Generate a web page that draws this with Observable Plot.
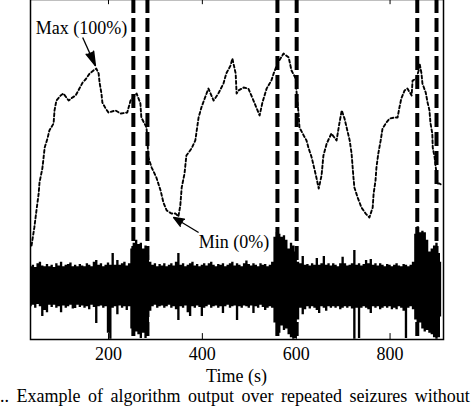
<!DOCTYPE html>
<html><head><meta charset="utf-8">
<script src="https://cdn.jsdelivr.net/npm/d3@7"></script>
<script src="https://cdn.jsdelivr.net/npm/@observablehq/plot@0.6"></script>
<style>
html,body{margin:0;padding:0;background:#fff;width:474px;height:409px;overflow:hidden;position:relative;font-family:"Liberation Serif","Times New Roman",serif;color:#000}
#chart{position:absolute;left:0;top:-1px}
.lbl{position:absolute;white-space:nowrap;font-size:18px;line-height:18px}
#xlabel{left:30px;width:413px;text-align:center;top:367px}
#caption{left:0;top:387px;word-spacing:3px}
</style></head><body>
<div id="chart"></div>
<div class="lbl" id="xlabel">Time (s)</div>
<div class="lbl" id="caption">.. Example of algorithm output over repeated seizures without</div>
<script>
// axes
const xDomain = [33.8, 913.9];
const yDomain = [-83.15, 146.7];
const xTicks = [200, 400, 600, 800];
// seizure onset / offset markers (s)
const seizureMarks = [253, 283, 560, 601, 858, 899];
// algorithm output (% of range)
const curveT = [36,42,47,51,53,59,61,64,70,74,83,85,89,98,104,115,123,130,138,145,151,160,168,174,179,181,185,187,194,200,215,226,240,247,260,268,270,281,283,285,292,302,311,317,324,334,343,349,353,356,362,366,377,385,388,392,398,405,413,424,434,445,451,460,464,471,473,477,488,498,509,515,522,528,537,547,552,560,573,584,590,599,601,605,607,616,622,626,633,637,643,648,654,658,665,675,686,692,697,703,709,714,718,720,722,724,731,739,748,756,763,765,769,771,775,780,784,792,799,809,816,820,824,831,837,846,848,856,861,863,867,869,876,880,884,886,890,891,895,899,901,905,912];
const curveV = [-19.6,-7.4,5.4,14.9,23,32.4,37.9,46.6,52.7,58.1,62.9,71.7,78.4,81.8,83.1,78.4,80.4,81.8,86.5,90.6,92.6,96.7,98.7,100,96.7,90.6,83.1,77,73,70.3,71.7,69.6,70.3,78.4,83.1,76.4,66.9,60.2,51.4,39.9,33.1,26.4,17.6,9.5,4.1,2,2,0,7.4,19.6,29,41.2,46,51.4,58.1,66.9,73.7,79.8,86.5,78.4,83.1,89.9,96.7,102,106.8,96.7,83.1,85.2,87.2,86.5,78.4,73.7,68.3,77,86.5,91.9,96.7,103.4,110.2,107.5,98.7,93.3,83.1,69.6,60.2,54.8,51.4,46.6,39.9,34.5,26.4,18.9,27.7,41.2,49.3,56.1,51.4,62.9,71.7,66.2,58.1,51.4,42.6,34.5,26.4,19.6,12.8,6.1,2,-0.7,6.1,15.5,24.3,33.1,42.6,51.4,59.5,63.5,66.2,66.9,66.9,73.7,79.8,85.2,86.5,81.8,91.9,93.3,98.7,103.4,96.7,89.9,83.8,77,71.7,63.5,56.1,46.6,39.9,29,22.3,22.3,21];
// raw EEG envelope, sampled every 5 s from 35 s
const eegStart = 35, eegStep = 5;
const eegHi = [
-34,-33,-34.5,-32,-31,-33.5,-34,-32.5,-34,-33,
-34.5,-32,-33.5,-31,-34,-33,-32.5,-31.5,-34,-33,
-34,-32.5,-33.5,-34,-32,-33,-34,-31,-29.7,-33,
-32,-34,-33,-31.5,-33,-25,-33,-29.7,-33,-32,
-31,-33.5,-32,-22,-18,-16,-19,-18,-22,-20,
-26,-31,-33,-32,-34,-32.5,-33.5,-32,-34,-33,
-32,-33.5,-31,-25,-33,-32,-34,-33,-32,-31,
-33.5,-32.5,-34,-33,-32,-33.5,-32,-31,-33,-34,
-32.5,-33,-32,-34,-33,-32,-31,-33.5,-32,-33,
-34,-32,-30,-32.5,-33.5,-32,-33,-34,-32,-33,
-32.5,-34,-33,-31,-14,-10.8,-12,-14,-13,-16,
-22,-18,-20,-24,-31,-32,-27,-33,-32.5,-33.5,
-32,-33,-28.4,-33,-32,-27,-33,-32,-33.5,-32,
-33,-34,-32,-27.5,-32,-33.5,-33,-32,-23,-33,
-32,-33.5,-32.5,-29.7,-32,-29,-33,-32,-33.5,-32,
-33,-34,-32.5,-33,-34,-33,-32,-33.5,-34,-32.5,
-33,-34,-33,-31,-12,-7,-11,-10,-11,-16,
-24,-22,-20,-18,-25,-31];
const eegLo = [
-61,-60,-62,-59.5,-61,-67.6,-63.5,-65,-60,-61.5,
-60,-62,-61,-65,-60.5,-62,-61,-60,-62.5,-62.2,
-60,-61.5,-60.5,-62,-61,-63,-60,-61.5,-72.3,-61,
-60.5,-62,-61,-79,-83,-62,-61,-66.5,-60.5,-62,
-61,-63.5,-61,-76,-81,-78,-80,-82.5,-79,-82.5,
-77,-64,-61,-60,-62,-61,-60.5,-62,-61,-60,
-62,-61,-63,-70.3,-61,-62,-60.5,-65,-67.6,-61,
-62,-60.5,-61.5,-67.6,-62,-61,-60,-62,-61,-60.5,
-62,-61,-65.6,-61,-60,-62,-61,-60.5,-70.3,-61,
-62,-60.5,-61,-62,-60.5,-65.6,-61,-62,-60,-61.5,
-63.5,-62,-61,-62,-72,-81,-79,-74,-77,-76,
-80,-82,-83,-82.5,-70,-62,-66.5,-63,-61,-62.5,
-61,-62,-63.5,-65.6,-61,-62,-64,-61,-62,-61,
-62,-61,-63,-62,-61,-62,-61,-62.5,-83,-62,
-82.5,-62,-61,-62,-63,-65.6,-61,-62,-61,-63,
-62,-61,-62,-61,-63,-62,-63,-61,-62,-64,
-82.5,-62,-61,-63,-70,-74,-72,-76,-78,-77,
-79,-80,-82,-83,-82,-68];
// annotations
const annLabel = ["Max (100%)", "Min (0%)"];
const annTextT = [142.5, 467.5];
const annTextV = [127.6, -17.7];
const annTailT = [145, 392];
const annTailV = [121, -10.8];
const annTipT = [172, 339];
const annTipV = [102, -0.7];
const annRot = [157, 301];
const annHead = [14, 10];

const eeg = eegHi.map((hi, i) => ({t: eegStart + i * eegStep, hi, lo: eegLo[i]}));
const curve = curveT.map((t, i) => ({t, v: curveV[i]}));
const ann = annLabel.map((label, i) => ({label, textT: annTextT[i], textV: annTextV[i], tailT: annTailT[i], tailV: annTailV[i], tipT: annTipT[i], tipV: annTipV[i], rot: annRot[i], len: annHead[i]}));

const font = '"Liberation Serif","Times New Roman",serif';
const plot = Plot.plot({
  width: 474, height: 366,
  marginLeft: 30, marginRight: 31, marginTop: 0, marginBottom: 26,
  x: {domain: xDomain},
  y: {domain: yDomain, axis: null},
  style: {fontFamily: font, fontSize: "18px", background: "white", color: "black", overflow: "visible"},
  marks: [
    Plot.areaY(eeg, {x: "t", y1: "lo", y2: "hi", curve: "step", fill: "black"}),
    Plot.lineY(curve, {x: "t", y: "v", stroke: "black", strokeWidth: 1.9, strokeDasharray: "3,2.5"}),
    Plot.ruleX(seizureMarks, {stroke: "black", strokeWidth: 4, strokeDasharray: "14,5"}),
    Plot.ruleX(xTicks, {x: d => d, y1: yDomain[0], y2: yDomain[0] + 4, stroke: "black"}),
    Plot.ruleX(xTicks, {x: d => d, y1: yDomain[1] - 3.5, y2: yDomain[1], stroke: "black"}),
    Plot.frame({stroke: "black", strokeWidth: 1.5}),
    Plot.axisX(xTicks, {tickSize: 0, tickPadding: 8, fontSize: 18, label: null, fill: "black", fontFamily: font}),
    Plot.link(ann, {x1: "tailT", y1: "tailV", x2: "tipT", y2: "tipV", stroke: "black", strokeWidth: 1.3}),
    Plot.vector(ann, {x: "tipT", y: "tipV", rotate: "rot", length: "len", shape: "spike", r: 4, anchor: "end", fill: "black", stroke: "black"}),
    Plot.text(ann, {x: "textT", y: "textV", text: "label", fontSize: 18, textAnchor: "middle", fill: "black", fontFamily: font})
  ]
});
document.getElementById("chart").appendChild(plot);
</script></body></html>
